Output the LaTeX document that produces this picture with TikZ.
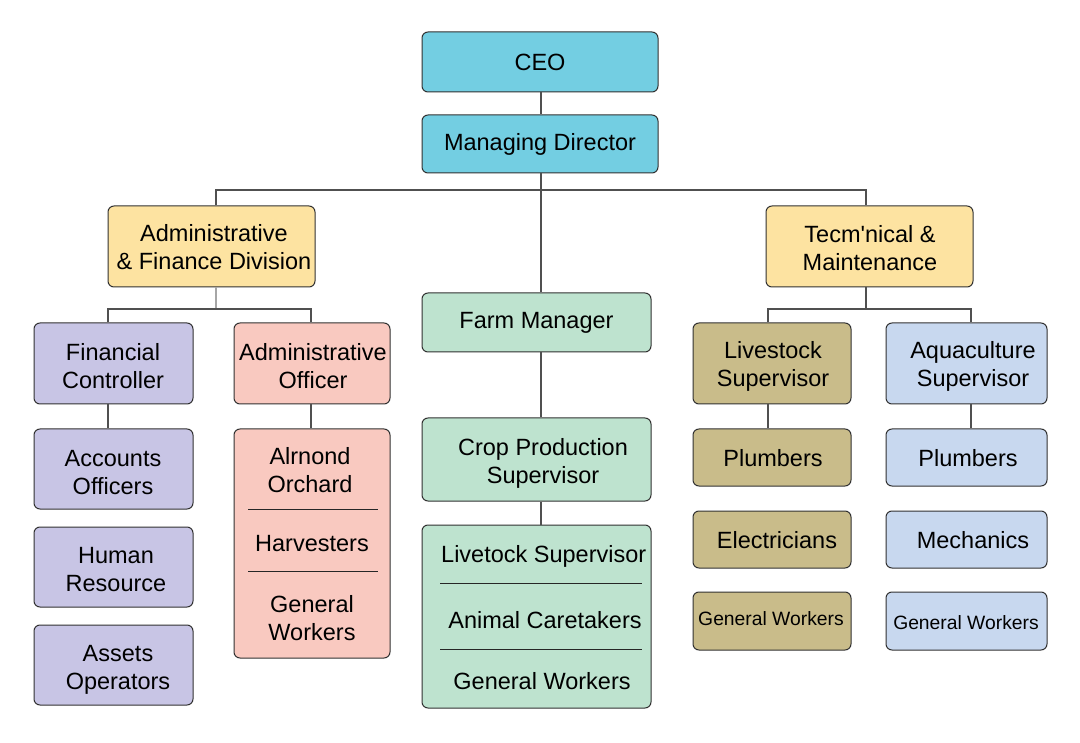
\documentclass[tikz,border=0pt]{standalone}
\usepackage{fontspec}
\setmainfont{Liberation Sans}[Ligatures=TeXOff]
\definecolor{cCyan}{RGB}{115,206,226}
\definecolor{cYel}{RGB}{253,227,161}
\definecolor{cPur}{RGB}{200,197,229}
\definecolor{cPink}{RGB}{249,201,192}
\definecolor{cGrn}{RGB}{190,227,207}
\definecolor{cOli}{RGB}{201,188,138}
\definecolor{cBlu}{RGB}{200,216,239}
\definecolor{cLine}{RGB}{80,80,80}
\definecolor{cEdge}{RGB}{50,50,50}
\tikzset{
  box/.style={draw=cEdge, line width=1pt, rounded corners=6pt, inner sep=0pt, align=center,
    font=\fontsize{23.5}{28}\selectfont, text=black},
  lbl/.style={inner sep=0pt, align=center, font=\fontsize{23.5}{28}\selectfont, text=black},
  small/.style={font=\fontsize{19.3}{23}\selectfont},
  conn/.style={draw=cLine, line width=1.1pt},
  lightconn/.style={draw=black!35, line width=1.1pt},
  divider/.style={draw=black!85, line width=0.9pt},
}
\begin{document}
\begin{tikzpicture}[x=1pt,y=-1pt]
\useasboundingbox[fill=white] (0,0) rectangle (1080,743);
% top
\node[box, fill=cCyan, minimum width=236, minimum height=60] (ceo) at (540,62) {CEO};
\node[box, fill=cCyan, minimum width=236, minimum height=58] (md) at (540,144) {Managing Director};
% divisions
\node[box, fill=cYel, minimum width=207, minimum height=81] (afd) at (211.5,246.5) {};
\node[lbl] (afdt) at (214,247) {Administrative\\ \& Finance Division};
\node[box, fill=cYel, minimum width=207, minimum height=81] (tm) at (869.5,246.5) {};
\node[lbl] (tmt) at (870,248.5) {Tecm'nical \&\\Maintenance};
\node[box, fill=cGrn, minimum width=229, minimum height=59] (fm) at (536.5,322.5) {Farm Manager};
% admin column
\node[box, fill=cPur, minimum width=159, minimum height=81] (fc) at (113.5,363.5) {};
\node[lbl] (fct) at (113,366.5) {Financial\\Controller};
\node[box, fill=cPink, minimum width=156, minimum height=81] (ao) at (312,363.5) {};
\node[lbl] (aot) at (313,366.5) {Administrative\\Officer};
\node[box, fill=cPur, minimum width=159, minimum height=80] (aco) at (113.5,469) {};
\node[lbl] (acot) at (113,472.5) {Accounts\\Officers};
\node[box, fill=cPur, minimum width=159, minimum height=80] (hr) at (113.5,567) {};
\node[lbl] (hrt) at (116,569.5) {Human\\Resource};
\node[box, fill=cPur, minimum width=159, minimum height=80] (as) at (113.5,665) {};
\node[lbl] (ast) at (118,669.5) {Assets\\Operators};
\node[box, fill=cPink, minimum width=156, minimum height=229] (orc) at (312,543.5) {};
\node[lbl] (orc1) at (310,470) {Alrnond\\Orchard};
\node[lbl] (orc2) at (312,544) {Harvesters};
\node[lbl] (orc3) at (312,618) {General\\Workers};
\draw[divider] (248,509) -- (378,509);
\draw[divider] (248,571) -- (378,571);
% farm column
\node[box, fill=cGrn, minimum width=229, minimum height=83] (cps) at (536.5,459.5) {};
\node[lbl] (cpst) at (543,463) {Crop Production\\Supervisor};
\node[box, fill=cGrn, minimum width=229, minimum height=183] (lst) at (536.5,616.5) {};
\node[lbl, anchor=west] (lst1) at (441,556) {Livetock Supervisor};
\node[lbl] (lst2) at (545,620) {Animal Caretakers};
\node[lbl] (lst3) at (542,681) {General Workers};
\draw[divider] (440,583) -- (642,583);
\draw[divider] (440,649) -- (642,649);
% technical column
\node[box, fill=cOli, minimum width=158, minimum height=81] (ls) at (772,363.5) {};
\node[lbl] (lsvt) at (773,366.5) {Livestock\\Supervisor};
\node[box, fill=cBlu, minimum width=161, minimum height=81] (aq) at (966.5,363.5) {};
\node[lbl] (aqt) at (973,366.5) {Aquaculture\\Supervisor};
\node[box, fill=cOli, minimum width=158, minimum height=57] (pl1) at (772,457.5) {};
\node[lbl] (pl1t) at (773,458.5) {Plumbers};
\node[box, fill=cOli, minimum width=158, minimum height=57] (el) at (772,539.5) {};
\node[lbl] (elt) at (777,540.5) {Electricians};
\node[box, fill=cOli, minimum width=158, minimum height=58] (gw1) at (772,621) {};
\node[lbl, small] (gw1t) at (771,618.5) {General Workers};
\node[box, fill=cBlu, minimum width=161, minimum height=57] (pl2) at (966.5,457.5) {};
\node[lbl] (pl2t) at (968,458.5) {Plumbers};
\node[box, fill=cBlu, minimum width=161, minimum height=57] (mec) at (966.5,539.5) {};
\node[lbl] (mect) at (973,540.5) {Mechanics};
\node[box, fill=cBlu, minimum width=161, minimum height=58] (gw2) at (966.5,621) {};
\node[lbl, small] (gw2t) at (966,622.5) {General Workers};
% bus coordinates
\coordinate (busL) at (216,190);
\coordinate (busR) at (866,190);
\coordinate (abL) at (108,309);
\coordinate (abM) at (216,309);
\coordinate (abR) at (311,309);
\coordinate (tbL) at (768,309);
\coordinate (tbM) at (866,309);
\coordinate (tbR) at (971,309);
\coordinate (mid) at (541,0);
% connectors
\draw[conn] (ceo.south -| mid) -- (md.north -| mid);
\draw[conn] (md.south -| mid) -- (fm.north -| mid);
\draw[conn] (afd.north -| busL) -- (busL) -- (busR) -- (tm.north -| busR);
\draw[lightconn] (afd.south -| abM) -- (abM);
\draw[conn] (fc.north -| abL) -- (abL) -- (abR) -- (ao.north -| abR);
\draw[conn] (fc.south -| abL) -- (aco.north -| abL);
\draw[conn] (ao.south -| abR) -- (orc.north -| abR);
\draw[conn] (fm.south -| mid) -- (cps.north -| mid);
\draw[conn] (cps.south -| mid) -- (lst.north -| mid);
\draw[conn] (tm.south -| tbM) -- (tbM);
\draw[conn] (ls.north -| tbL) -- (tbL) -- (tbR) -- (aq.north -| tbR);
\draw[conn] (ls.south -| tbL) -- (pl1.north -| tbL);
\draw[conn] (aq.south -| tbR) -- (pl2.north -| tbR);
\end{tikzpicture}
\end{document}
